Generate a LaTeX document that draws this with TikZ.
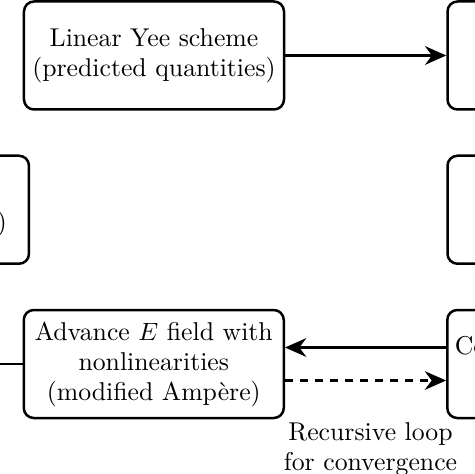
\documentclass[tikz,border=0pt]{standalone}
\usepackage{tikz}
\usetikzlibrary{arrows.meta, positioning, calc}
\usepackage{amsmath}
\tikzset{
  arrowK/.style={-{Stealth[length=8.5pt, width=7.5pt]}, black, line width=0.85pt},
  arrowKD/.style={arrowK, dashed},
  boxW/.style={rectangle, rounded corners=4pt, draw=black, line width=1pt, fill=white,
               align=center, inner sep=3pt, minimum width=104pt, minimum height=43.2pt},
}

\begin{document}
\begin{tikzpicture}[node distance=17.5pt, font=\fontsize{10.3}{12}\selectfont]
    \useasboundingbox (-61.6pt,22.2pt) rectangle ++(189.6pt,-189.6pt);
    \node[boxW] (yee) at (0,0) {Linear Yee scheme\\(predicted quantities)};
    \node[boxW, right=64.4pt of yee] (r1) {};
    \node[boxW, below=of r1] (r2) {};
    \node[boxW, below=of r2] (pol) {Compute polarization\\(nonlinear terms)};
    \node[boxW, left=64.4pt of pol] (ampere) {Advance $E$ field with\\nonlinearities\\(modified Amp\`ere)};
    \node[boxW, left=166.4pt of r2] (faraday) {Advance $H$ field\\(modified Faraday)};
    \draw[arrowK] (yee) -- (r1);
    \draw[arrowK] ([yshift=6.6pt]pol.west) -- ([yshift=6.6pt]ampere.east);
    \draw[arrowKD] ([yshift=-6.6pt]ampere.east) -- ([yshift=-6.6pt]pol.west)
      node[midway, below=13pt, xshift=2pt, align=center] (loop) {Recursive loop\\for convergence};
    \draw[arrowK] (ampere.west) -| (faraday.south);
  \end{tikzpicture}
\end{document}
